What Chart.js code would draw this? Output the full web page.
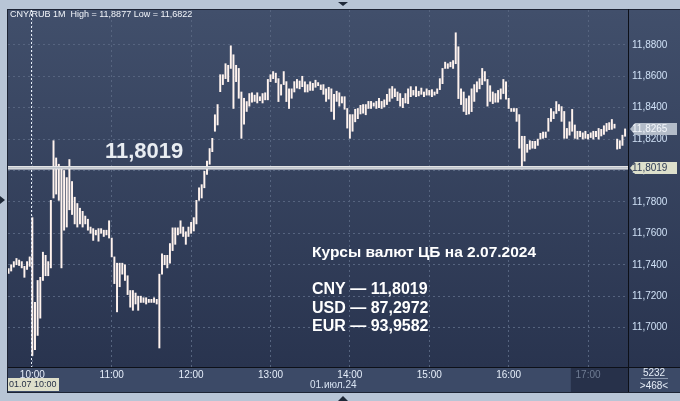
<!DOCTYPE html>
<html>
<head>
<meta charset="utf-8">
<script src="https://cdn.jsdelivr.net/npm/chart.js"></script>
<style>
  html, body { margin: 0; padding: 0; background: #b8c5d6; }
  canvas { display: block; }
</style>
</head>
<body>
<canvas id="chart" width="680" height="401"></canvas>
<script>
// 2-minute bars CNY/RUB, 01.07.2024, first bar at 09:42
const startMinute = 9 * 60 + 42;
const stepMinutes = 2;

const lows = [
  11.7345, 11.7360, 11.7385, 11.7400, 11.7395, 11.7380, 11.7320, 11.7370, 11.7390, 11.6822,
  11.6860, 11.6950, 11.7060, 11.7300, 11.7330, 11.7330, 11.7380, 11.7825, 11.7850, 11.7810,
  11.7380, 11.7620, 11.7640, 11.7750, 11.7720, 11.7660, 11.7640, 11.7660, 11.7640, 11.7660,
  11.7620, 11.7600, 11.7555, 11.7590, 11.7550, 11.7600, 11.7580, 11.7590, 11.7570, 11.7450,
  11.7280, 11.7100, 11.7260, 11.7340, 11.7300, 11.7210, 11.7130, 11.7110, 11.7150, 11.7110,
  11.7160, 11.7160, 11.7150, 11.7160, 11.7160, 11.7160, 11.7150, 11.6870, 11.7340, 11.7400,
  11.7380, 11.7410, 11.7490, 11.7530, 11.7590, 11.7600, 11.7580, 11.7530, 11.7580, 11.7600,
  11.7615, 11.7660, 11.7810, 11.7825, 11.7890, 11.7975, 11.8040, 11.8120, 11.8250, 11.8290,
  11.8502, 11.8547, 11.8585, 11.8566, 11.8650, 11.8395, 11.8566, 11.8460, 11.8205, 11.8295,
  11.8376, 11.8410, 11.8435, 11.8440, 11.8430, 11.8445, 11.8430, 11.8450, 11.8450, 11.8566,
  11.8585, 11.8560, 11.8439, 11.8480, 11.8547, 11.8439, 11.8395, 11.8460, 11.8500, 11.8525,
  11.8520, 11.8534, 11.8500, 11.8500, 11.8510, 11.8510, 11.8530, 11.8540, 11.8515, 11.8485,
  11.8440, 11.8455, 11.8376, 11.8325, 11.8440, 11.8410, 11.8430, 11.8390, 11.8270, 11.8205,
  11.8250, 11.8310, 11.8330, 11.8360, 11.8365, 11.8355, 11.8395, 11.8395, 11.8410, 11.8395,
  11.8400, 11.8395, 11.8405, 11.8420, 11.8440, 11.8460, 11.8470, 11.8445, 11.8410, 11.8400,
  11.8430, 11.8426, 11.8470, 11.8480, 11.8470, 11.8475, 11.8485, 11.8470, 11.8480, 11.8480,
  11.8470, 11.8480, 11.8490, 11.8515, 11.8553, 11.8650, 11.8650, 11.8660, 11.8650, 11.8680,
  11.8458, 11.8420, 11.8376, 11.8356, 11.8360, 11.8375, 11.8440, 11.8500, 11.8520, 11.8547,
  11.8570, 11.8410, 11.8440, 11.8426, 11.8435, 11.8435, 11.8455, 11.8490, 11.8455, 11.8395,
  11.8376, 11.8376, 11.8313, 11.8142, 11.8010, 11.8060, 11.8116, 11.8135, 11.8142, 11.8140,
  11.8160, 11.8200, 11.8205, 11.8210, 11.8250, 11.8313, 11.8330, 11.8363, 11.8380, 11.8313,
  11.8205, 11.8205, 11.8225, 11.8250, 11.8205, 11.8200, 11.8215, 11.8200, 11.8205, 11.8200,
  11.8210, 11.8200, 11.8215, 11.8200, 11.8220, 11.8230, 11.8250, 11.8260, 11.8262, 11.8270,
  11.8136, 11.8140, 11.8160, 11.8218
];

const highs = [
  11.7375, 11.7400, 11.7420, 11.7440, 11.7430, 11.7420, 11.7390, 11.7420, 11.7450, 11.7700,
  11.7160, 11.7300, 11.7320, 11.7480, 11.7460, 11.7420, 11.7810, 11.8190, 11.8080, 11.8040,
  11.8025, 11.8000, 11.7955, 11.8070, 11.7930, 11.7830, 11.7790, 11.7760, 11.7740, 11.7710,
  11.7690, 11.7640, 11.7630, 11.7620, 11.7630, 11.7630, 11.7620, 11.7620, 11.7680, 11.7570,
  11.7450, 11.7410, 11.7410, 11.7410, 11.7400, 11.7330, 11.7236, 11.7236, 11.7220, 11.7200,
  11.7200, 11.7190, 11.7190, 11.7180, 11.7180, 11.7190, 11.7180, 11.7340, 11.7470, 11.7460,
  11.7460, 11.7535, 11.7635, 11.7635, 11.7635, 11.7680, 11.7640, 11.7610, 11.7640, 11.7670,
  11.7700, 11.7810, 11.7890, 11.7910, 11.7995, 11.8060, 11.8140, 11.8205, 11.8355, 11.8420,
  11.8610, 11.8610, 11.8680, 11.8670, 11.8794, 11.8737, 11.8670, 11.8650, 11.8500, 11.8460,
  11.8439, 11.8490, 11.8495, 11.8480, 11.8495, 11.8470, 11.8490, 11.8495, 11.8580, 11.8610,
  11.8630, 11.8620, 11.8585, 11.8547, 11.8630, 11.8566, 11.8520, 11.8520, 11.8566, 11.8580,
  11.8570, 11.8600, 11.8565, 11.8547, 11.8565, 11.8555, 11.8575, 11.8560, 11.8545, 11.8547,
  11.8520, 11.8530, 11.8520, 11.8485, 11.8505, 11.8495, 11.8470, 11.8470, 11.8395, 11.8356,
  11.8356, 11.8390, 11.8395, 11.8415, 11.8420, 11.8420, 11.8440, 11.8440, 11.8430, 11.8440,
  11.8460, 11.8440, 11.8450, 11.8485, 11.8520, 11.8535, 11.8520, 11.8500, 11.8490, 11.8460,
  11.8490, 11.8520, 11.8534, 11.8510, 11.8534, 11.8505, 11.8525, 11.8500, 11.8520, 11.8510,
  11.8515, 11.8500, 11.8520, 11.8585, 11.8650, 11.8690, 11.8680, 11.8690, 11.8700, 11.8877,
  11.8788, 11.8520, 11.8500, 11.8458, 11.8475, 11.8520, 11.8547, 11.8565, 11.8585, 11.8650,
  11.8630, 11.8580, 11.8540, 11.8500, 11.8490, 11.8510, 11.8520, 11.8580, 11.8565, 11.8460,
  11.8395, 11.8395, 11.8395, 11.8356, 11.8218, 11.8218, 11.8167, 11.8190, 11.8186, 11.8186,
  11.8200, 11.8237, 11.8245, 11.8245, 11.8332, 11.8395, 11.8375, 11.8439, 11.8420, 11.8407,
  11.8376, 11.8268, 11.8310, 11.8389, 11.8290, 11.8250, 11.8250, 11.8240, 11.8250, 11.8230,
  11.8240, 11.8250, 11.8250, 11.8268, 11.8262, 11.8285, 11.8300, 11.8305, 11.8325, 11.8295,
  11.8200, 11.8190, 11.8225, 11.8265
];

const hourTicks = [10, 11, 12, 13, 14, 15, 16, 17];
const priceTicks = [11.70, 11.72, 11.74, 11.76, 11.78, 11.80, 11.82, 11.84, 11.86, 11.88];

const cbRate = 11.8019;
const lastPrice = 11.8265;
const titleText = "CNY/RUB 1M  High = 11,8877 Low = 11,6822";
const noteTitle = "Курсы валют ЦБ на 2.07.2024";
const noteLines = ["CNY — 11,8019", "USD — 87,2972", "EUR — 93,9582"];
const cursorLabel = "01.07 10:00";
const dateLabel = "01.июл.24";
const cornerTop = "5232";
const cornerBottom = ">468<";

const fmt = v => v.toFixed(4).replace(".", ",");
const FAMILY = "'Liberation Sans', Arial, sans-serif";
const SMALL = "10px " + FAMILY;
const TINY = "9px " + FAMILY;

const bars = lows.map((lo, i) => ({ x: startMinute + i * stepMinutes, y: [lo, highs[i]] }));

function tri(ctx, pts, color) {
  ctx.fillStyle = color;
  ctx.beginPath();
  ctx.moveTo(pts[0], pts[1]);
  ctx.lineTo(pts[2], pts[3]);
  ctx.lineTo(pts[4], pts[5]);
  ctx.closePath();
  ctx.fill();
}

const terminal = {
  id: "terminal",
  beforeDraw(chart) {
    const { ctx, chartArea: a } = chart;
    const W = chart.width;
    ctx.save();
    ctx.fillStyle = "#b8c5d6";
    ctx.fillRect(0, 0, W, chart.height);
    ctx.fillStyle = "#1d2434";
    ctx.fillRect(a.left - 1, a.top - 1, W - a.left + 1, 393 - a.top + 1);
    // plot + right panel gradient
    const g = ctx.createLinearGradient(0, a.top, 0, a.bottom);
    g.addColorStop(0, "#414f6b");
    g.addColorStop(1, "#29344f");
    ctx.fillStyle = g;
    ctx.fillRect(a.left, a.top, a.right - a.left, a.bottom - a.top);
    ctx.fillRect(a.right + 1, a.top, W - a.right - 1, a.bottom - a.top);
    // bottom band
    ctx.fillStyle = "#3c4a67";
    ctx.fillRect(a.left, a.bottom + 1, a.right - a.left, 392 - a.bottom - 1);
    ctx.fillRect(a.right + 1, a.bottom + 1, W - a.right - 1, 392 - a.bottom - 1);
    // evening session shading in bottom band
    const xs = chart.scales.x;
    const eve = xs.getPixelForValue(16 * 60 + 47);
    ctx.fillStyle = "#27314a";
    ctx.fillRect(eve, a.bottom + 1, a.right - eve, 392 - a.bottom - 1);
    ctx.restore();
  },
  afterDatasetsDraw(chart) {
    const { ctx, chartArea: a, scales } = chart;
    const W = chart.width;
    const xs = scales.x, ys = scales.y;
    ctx.save();

    // cursor line at 10:00
    const cx = Math.round(xs.getPixelForValue(600)) - 0.5;
    ctx.strokeStyle = "#e8eef8";
    ctx.lineWidth = 1;
    ctx.setLineDash([2, 2]);
    ctx.beginPath();
    ctx.moveTo(cx, a.top);
    ctx.lineTo(cx, a.bottom);
    ctx.stroke();
    ctx.setLineDash([]);

    // CB rate line
    const ry = ys.getPixelForValue(cbRate);
    ctx.fillStyle = "#e9e9ea";
    ctx.fillRect(a.left, ry - 1.5, a.right - a.left, 3.5);
    ctx.fillStyle = "#a9b0bc";
    ctx.fillRect(a.left, ry - 0.2, a.right - a.left, 1);

    // big label
    ctx.fillStyle = "#e9edf2";
    ctx.font = "bold 22px " + FAMILY;
    ctx.textBaseline = "middle";
    ctx.textAlign = "left";
    ctx.fillText(fmt(cbRate), 105, 152);

    // note
    ctx.fillStyle = "#ffffff";
    ctx.font = "bold 15.5px " + FAMILY;
    ctx.fillText(noteTitle, 312, 253);
    ctx.font = "bold 16px " + FAMILY;
    noteLines.forEach((t, i) => ctx.fillText(t, 312, 290 + i * 18.3));

    // title
    ctx.font = TINY;
    ctx.fillStyle = "#f2f5fa";
    ctx.fillText(titleText, 10, 15);

    // frame lines
    ctx.fillStyle = "#0d1018";
    ctx.fillRect(a.right, a.top - 1, 1, 392 - a.top + 1);
    ctx.fillRect(a.left, a.bottom, W - a.left, 1);

    // price tags on right axis
    const tag = (v, bg, fg) => {
      const y = Math.round(ys.getPixelForValue(v));
      const x0 = a.right + 2;
      ctx.fillStyle = bg;
      ctx.beginPath();
      ctx.moveTo(x0, y);
      ctx.lineTo(x0 + 5, y - 6);
      ctx.lineTo(W - 3, y - 6);
      ctx.lineTo(W - 3, y + 6);
      ctx.lineTo(x0 + 5, y + 6);
      ctx.closePath();
      ctx.fill();
      ctx.fillStyle = fg;
      ctx.font = SMALL;
      ctx.textAlign = "left";
      ctx.fillText(fmt(v), a.right + 4, y + 0.5);
    };
    tag(lastPrice, "#b3bcc9", "#f4f7fc");
    tag(cbRate, "#dde0cc", "#2d3a55");

    // cursor date box
    ctx.fillStyle = "#dedfca";
    ctx.fillRect(a.left, 378, 51, 13);
    ctx.fillStyle = "#1f2a42";
    ctx.font = TINY;
    ctx.fillText(cursorLabel, a.left + 1, 385);

    // date under axis
    ctx.fillStyle = "#d9e4f3";
    ctx.font = SMALL;
    ctx.fillText(dateLabel, 310, 385.5);

    // corner counter
    ctx.textAlign = "center";
    ctx.fillStyle = "#e6edf7";
    ctx.fillText(cornerTop, 654, 373);
    ctx.fillText(cornerBottom, 654, 386);
    ctx.fillStyle = "#8795ab";
    ctx.fillRect(641, 378, 27, 1);

    // small triangle markers on the frame
    tri(ctx, [338, 2, 348, 2, 343, 6], "#1e2838");
    tri(ctx, [338, 401, 348, 401, 343, 396], "#1e2838");
    tri(ctx, [0, 196, 0, 204, 5, 200], "#1e2838");
    ctx.restore();
  }
};

new Chart(document.getElementById("chart"), {
  type: "bar",
  data: {
    datasets: [{
      data: bars,
      backgroundColor: "#fff3ee",
      borderWidth: 0,
      barThickness: 1.3,
      borderSkipped: false
    }]
  },
  options: {
    responsive: false,
    animation: false,
    devicePixelRatio: 1,
    layout: { padding: { left: 8, top: 8, right: 0, bottom: 0 } },
    plugins: { legend: { display: false }, tooltip: { enabled: false } },
    scales: {
      x: {
        type: "linear",
        offset: false,
        min: 581.6,
        max: 1050.2,
        afterFit: s => { s.height = 34; },
        afterBuildTicks: s => { s.ticks = hourTicks.map(h => ({ value: h * 60 })); },
        grid: { color: "#56647f", drawTicks: false, offset: false },
        border: { display: false, dash: [2, 3] },
        ticks: {
          padding: 2,
          autoSkip: false,
          maxRotation: 0,
          font: { family: FAMILY, size: 10 },
          color: c => c.tick && c.tick.value === 17 * 60 ? "#6f7c93" : "#e6eefa",
          callback: v => String(v / 60) + ":00"
        }
      },
      y: {
        position: "right",
        min: 11.6749,
        max: 11.9022,
        afterFit: s => { s.width = 52; },
        afterBuildTicks: s => { s.ticks = priceTicks.map(v => ({ value: v })); },
        grid: { color: "#56647f", drawTicks: false },
        border: { display: false, dash: [2, 3] },
        ticks: {
          padding: 4,
          font: { family: FAMILY, size: 10 },
          color: "#cfe0f5",
          callback: v => fmt(v)
        }
      }
    }
  },
  plugins: [terminal]
});
</script>
</body>
</html>
